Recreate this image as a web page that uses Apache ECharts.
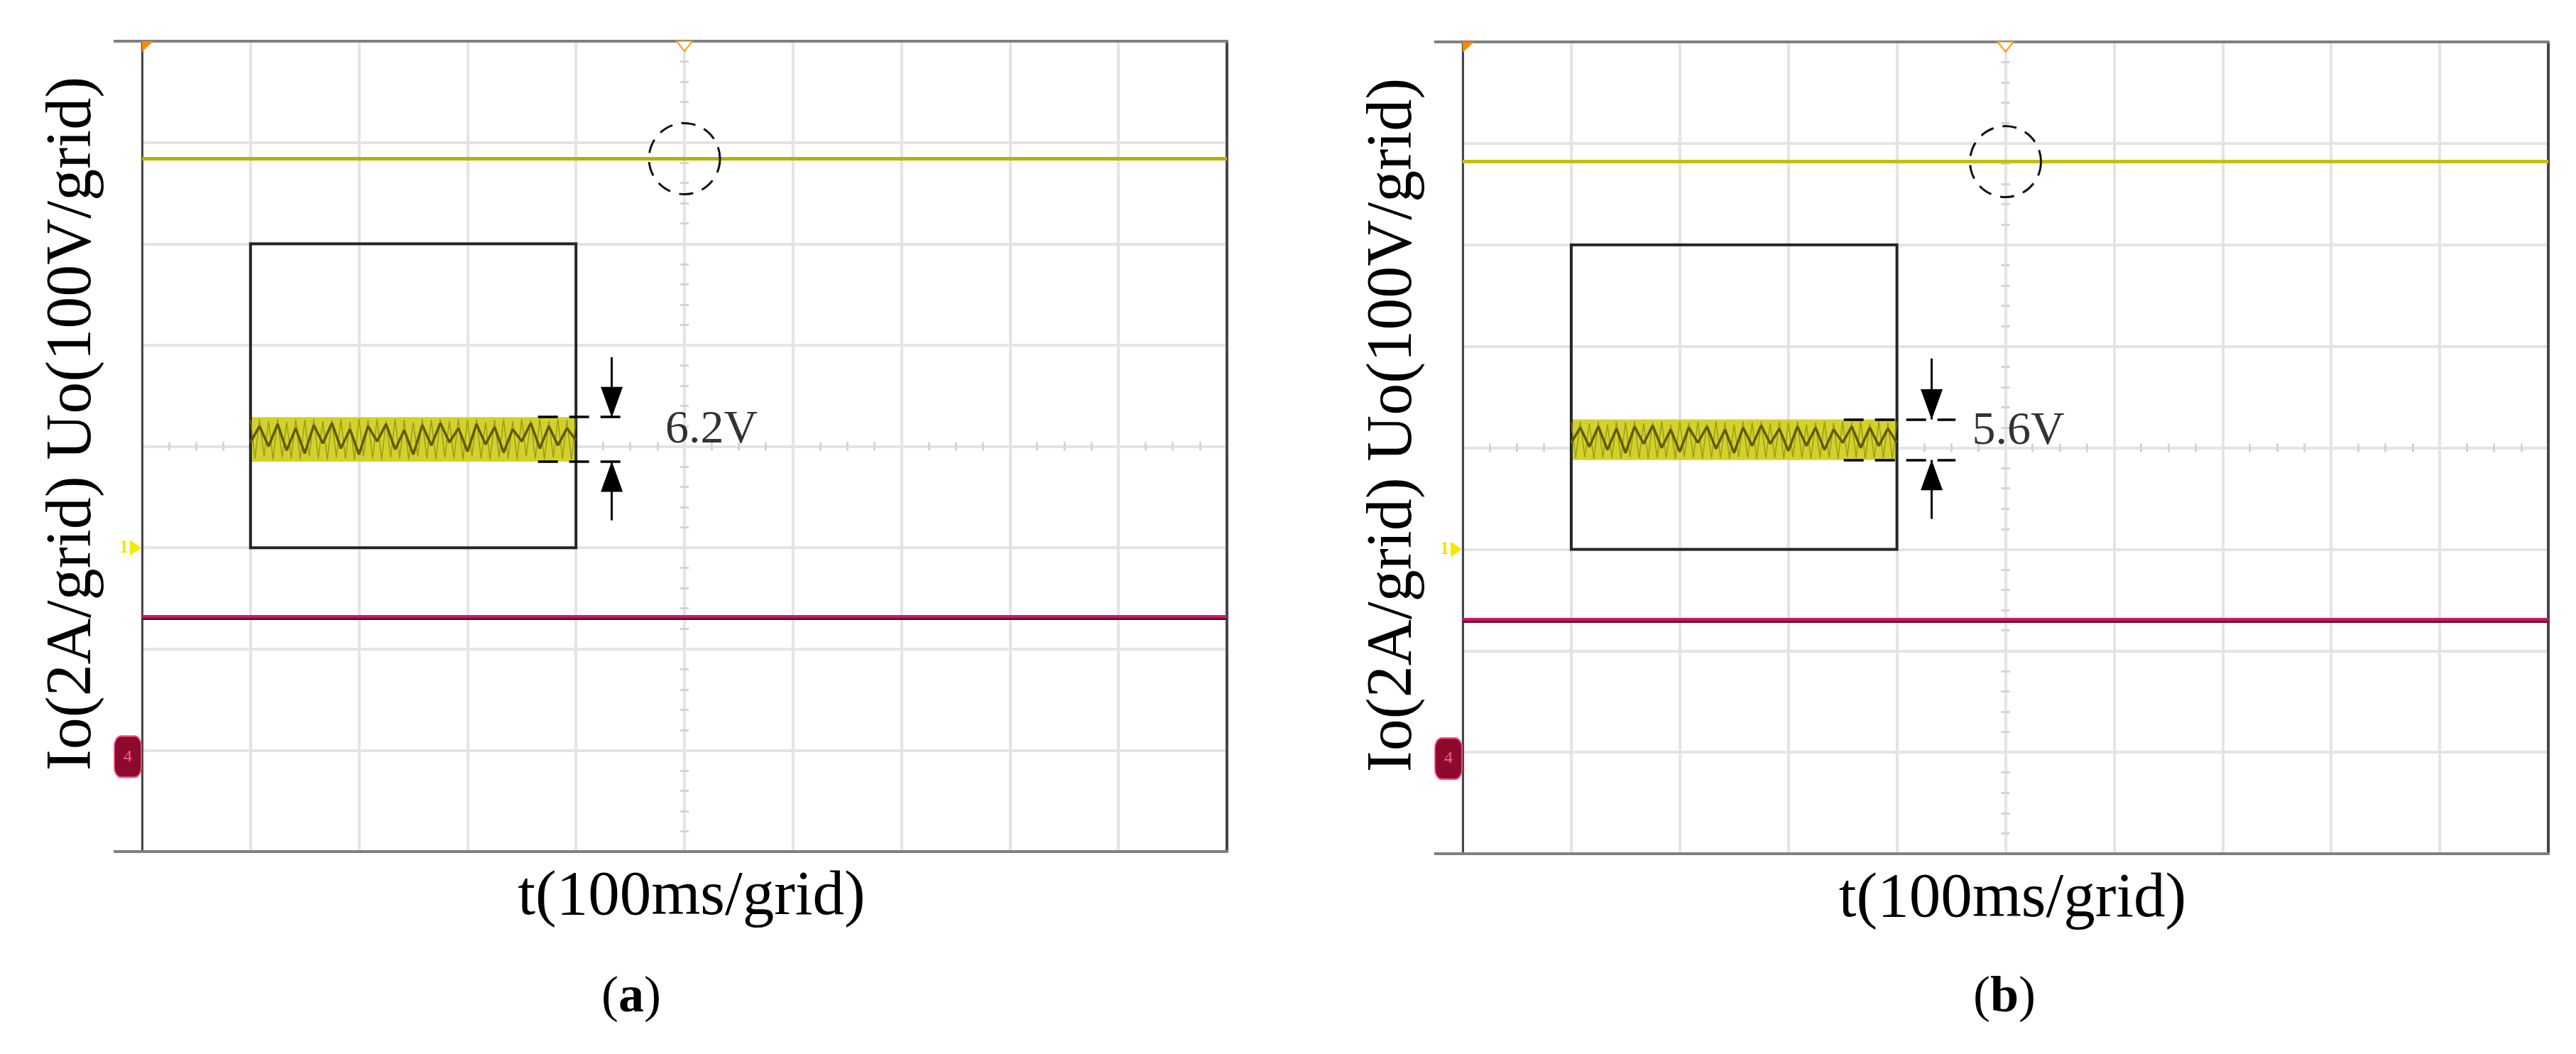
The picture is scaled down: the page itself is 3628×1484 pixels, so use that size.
<!DOCTYPE html>
<html>
<head>
<meta charset="utf-8">
<title>Output voltage and current</title>
<script src="https://cdn.jsdelivr.net/npm/echarts@6.0.0/dist/echarts.min.js"></script>
<style>
  html, body { margin: 0; padding: 0; background: #fff; }
  #chart { width: 3628px; height: 1484px; }
</style>
</head>
<body>
<div id="chart"></div>
<script>
// Scope screen: 10 x 8 divisions, the centre of the screen is (0, 0)
const timeRange = [-5, 5];
const levelRange = [-4, 4];
const sampleTimes = [-5, 5];

// Traces, in divisions from the screen centre
const uoTraceA = [2.84, 2.84];
const uoTraceB = [2.82, 2.82];
const ioTraceA = [-1.68, -1.68];
const ioTraceB = [-1.69, -1.69];

const ch1Ground = [-1, -1];
const ch4Ground = [-3, -3];

// Zoom window with the ripple of Uo
const zoomBoxX = [-4, -1];
const zoomBoxY = [-1, 2];
const rippleTop = [0.29, 0.28];
const rippleBottom = [-0.15, -0.12];
const rippleLabels = ['6.2V', '5.6V'];
// slow ripple (dark zig-zag)
const rippleTraceA = [0.04, 0.20, 0.00, 0.22, -0.04, 0.18, -0.07, 0.21, 0.03, 0.23, -0.02, 0.17, -0.08, 0.20,
    0.05, 0.22, -0.03, 0.16, -0.08, 0.21, 0.01, 0.23, 0.04, 0.18, -0.05, 0.22, 0.02, 0.19, -0.06, 0.17,
    0.05, 0.23, -0.02, 0.20, 0.01, 0.18, 0.06];
const rippleTraceB = [0.05, 0.20, 0.01, 0.21, -0.02, 0.19, -0.05, 0.21, 0.04, 0.22, 0.00, 0.18, -0.04, 0.20,
    0.05, 0.21, -0.01, 0.18, -0.05, 0.20, 0.02, 0.22, 0.04, 0.19, -0.03, 0.21, 0.02, 0.20, -0.02, 0.18,
    0.05, 0.21, 0.00, 0.20, 0.02, 0.19, 0.05];
// switching noise (fine streaks)
const rippleNoiseA = [0.26, -0.12, 0.27, -0.10, 0.25, -0.13, 0.27, -0.11, 0.24, -0.12, 0.27, -0.13, 0.26,
    -0.10, 0.27, -0.12, 0.25, -0.13, 0.26, -0.11, 0.27, -0.12, 0.24, -0.13, 0.27, -0.10, 0.26, -0.12,
    0.27, -0.13, 0.25, -0.11, 0.27, -0.12, 0.26, -0.13, 0.24, -0.10, 0.27, -0.12, 0.26, -0.13, 0.27,
    -0.11, 0.25, -0.12, 0.27, -0.13, 0.26, -0.10, 0.27, -0.12, 0.24, -0.13, 0.26, -0.11, 0.27, -0.12,
    0.25, -0.13, 0.27, -0.10, 0.26, -0.12, 0.27, -0.13, 0.25, -0.11, 0.27, -0.12, 0.26, -0.13, 0.27];
const rippleNoiseB = [0.25, -0.10, 0.26, -0.09, 0.24, -0.11, 0.26, -0.10, 0.23, -0.10, 0.26, -0.11, 0.25,
    -0.09, 0.26, -0.10, 0.24, -0.11, 0.25, -0.10, 0.26, -0.10, 0.23, -0.11, 0.26, -0.09, 0.25, -0.10,
    0.26, -0.11, 0.24, -0.10, 0.26, -0.10, 0.25, -0.11, 0.23, -0.09, 0.26, -0.10, 0.25, -0.11, 0.26,
    -0.10, 0.24, -0.10, 0.26, -0.11, 0.25, -0.09, 0.26, -0.10, 0.23, -0.11, 0.25, -0.10, 0.26, -0.10,
    0.24, -0.11, 0.26, -0.09, 0.25, -0.10, 0.26, -0.11, 0.24, -0.10, 0.26, -0.10, 0.25, -0.11, 0.26];

// Annotation anchors, in divisions
const dashFrom = [-1.35, -1.49];
const dashTo = [-0.58, -0.46];
const arrowX = [-0.67, -0.68];
const arrowTopFrom = [0.88, 0.88];
const arrowBottomFrom = [-0.73, -0.70];
const rippleLabelX = [-0.18, -0.31];
const rippleLabelY = [0.16, 0.16];

const panelLabels = ['a', 'b'];
const xAxisName = 't(100ms/grid)';
const yAxisName = 'Io(2A/grid) Uo(100V/grid)';

// Layout (pixels)
const panels = [
    { left: 200, top: 58, width: 1528, height: 1141, labelX: 889 },
    { left: 2060, top: 59, width: 1529, height: 1143, labelX: 2823 }
];
const serif = "'Liberation Serif', 'Times New Roman', serif";
const gridColor = '#e4e4e4';
const frameGray = '#808080';
const frameDark = '#474747';
const tickStyle = { color: '#d4d4d4', width: 3 };

document.addEventListener('DOMContentLoaded', function() {
    const chart = echarts.init(document.getElementById('chart'), null, { renderer: 'canvas' });
    const option = {
        backgroundColor: '#fff',
        animation: false,
        grid: [],
        xAxis: [],
        yAxis: [],
        series: [],
        graphic: []
    };

    const traces = [
        { uo: uoTraceA, io: ioTraceA, ripple: rippleTraceA, noise: rippleNoiseA },
        { uo: uoTraceB, io: ioTraceB, ripple: rippleTraceB, noise: rippleNoiseB }
    ];

    panels.forEach(function(box, p) {
        option.grid.push({
            left: box.left, top: box.top, width: box.width, height: box.height,
            containLabel: false, outerBoundsMode: 'none', show: false
        });
        addAxes(option, p);
        addSeries(option, p, traces[p]);
        addDecorations(option, p, box);
    });

    chart.setOption(option);
});

function hidden() {
    return { show: false };
}

function addAxes(option, p) {
    const base = p * 4;

    // frame bottom (main axis, carries the grid lines)
    option.xAxis.push({
        type: 'value', gridIndex: p, min: timeRange[0], max: timeRange[1], interval: 1,
        position: 'bottom',
        axisLine: { show: true, onZero: false, lineStyle: { color: frameGray, width: 4 } },
        axisTick: hidden(), axisLabel: hidden(),
        splitLine: { show: true, lineStyle: { color: gridColor, width: 4 } },
        name: xAxisName, nameLocation: 'middle', nameGap: 20,
        nameTextStyle: { fontFamily: serif, fontSize: 89, color: '#000', padding: [0, 0, 0, 20] }
    });
    // frame top
    option.xAxis.push({
        type: 'value', gridIndex: p, min: timeRange[0], max: timeRange[1], interval: 1,
        position: 'top',
        axisLine: { show: true, onZero: false, lineStyle: { color: frameGray, width: 4 } },
        axisTick: hidden(), axisLabel: hidden(), splitLine: hidden()
    });
    // centre line ticks, both sides
    [false, true].forEach(function(inside) {
        option.xAxis.push({
            type: 'value', gridIndex: p, min: timeRange[0], max: timeRange[1], interval: 1,
            position: 'bottom',
            axisLine: { show: true, onZero: true, onZeroAxisIndex: base, lineStyle: { opacity: 0 } },
            axisTick: { show: false, inside: inside },
            minorTick: { show: true, splitNumber: 4, length: 6, lineStyle: tickStyle },
            axisLabel: hidden(), splitLine: hidden()
        });
    });

    // frame left (main axis)
    option.yAxis.push({
        type: 'value', gridIndex: p, min: levelRange[0], max: levelRange[1], interval: 1,
        position: 'left',
        axisLine: { show: true, onZero: false, lineStyle: { color: frameDark, width: 3 } },
        axisTick: hidden(), axisLabel: hidden(),
        splitLine: { show: true, lineStyle: { color: gridColor, width: 4 } },
        name: yAxisName, nameLocation: 'middle', nameRotate: 90, nameGap: 52,
        nameTextStyle: { fontFamily: serif, fontSize: 90, color: '#000', padding: [0, 0, 0, 64] }
    });
    // frame right
    option.yAxis.push({
        type: 'value', gridIndex: p, min: levelRange[0], max: levelRange[1], interval: 1,
        position: 'right',
        axisLine: { show: true, onZero: false, lineStyle: { color: frameDark, width: 4 } },
        axisTick: hidden(), axisLabel: hidden(), splitLine: hidden()
    });
    [false, true].forEach(function(inside) {
        option.yAxis.push({
            type: 'value', gridIndex: p, min: levelRange[0], max: levelRange[1], interval: 1,
            position: 'left',
            axisLine: { show: true, onZero: true, onZeroAxisIndex: base, lineStyle: { opacity: 0 } },
            axisTick: { show: false, inside: inside },
            minorTick: { show: true, splitNumber: 5, length: 6, lineStyle: tickStyle },
            axisLabel: hidden(), splitLine: hidden()
        });
    });
}

// spread values evenly across the zoom window
function acrossZoomBox(values) {
    const step = (zoomBoxX[1] - zoomBoxX[0]) / (values.length - 1);
    return values.map(function(v, i) { return [zoomBoxX[0] + i * step, v]; });
}

function addSeries(option, p, tr) {
    const axes = { xAxisIndex: p * 4, yAxisIndex: p * 4 };

    // Uo
    option.series.push(Object.assign({
        name: 'Uo', type: 'line', symbol: 'none', z: 4,
        data: sampleTimes.map(function(t, i) { return [t, tr.uo[i]]; }),
        lineStyle: { color: p === 0 ? '#b4b200' : '#c4c200', width: 5 }
    }, axes));

    // Io
    option.series.push(Object.assign({
        name: 'Io', type: 'line', symbol: 'none', z: 4,
        data: sampleTimes.map(function(t, i) { return [t, tr.io[i]]; }),
        lineStyle: { color: '#d0146a', width: 4, shadowColor: '#700a30', shadowOffsetY: 3, shadowBlur: 0 }
    }, axes));

    // zoomed ripple: fine switching noise
    option.series.push(Object.assign({
        name: 'ripple noise', type: 'line', symbol: 'none', z: 5,
        data: acrossZoomBox(tr.noise),
        lineStyle: { color: '#8c8a12', width: 1.5, opacity: 0.75 }
    }, axes));

    // zoomed ripple: slow component, with the zoom box and the measuring marks
    option.series.push(Object.assign({
        name: 'ripple', type: 'line', symbol: 'none', z: 5,
        data: acrossZoomBox(tr.ripple),
        lineStyle: { color: '#5e5c00', width: 3.5 },
        markArea: {
            silent: true,
            label: { show: false },
            data: [
                [{ coord: [zoomBoxX[0], rippleBottom[p]], itemStyle: { color: '#d3d12c', opacity: 1 } },
                 { coord: [zoomBoxX[1], rippleTop[p]] }],
                [{ coord: [zoomBoxX[0], zoomBoxY[0]],
                   itemStyle: { color: 'rgba(0,0,0,0)', borderColor: '#262626', borderWidth: 4, opacity: 1 } },
                 { coord: [zoomBoxX[1], zoomBoxY[1]] }]
            ]
        },
        markLine: {
            silent: true,
            symbol: ['none', 'none'],
            label: { show: false },
            lineStyle: { color: '#000', width: 3.5, type: [28, 16] },
            data: [
                [{ coord: [dashFrom[p], rippleTop[p]] }, { coord: [dashTo[p], rippleTop[p]] }],
                [{ coord: [dashFrom[p], rippleBottom[p]] }, { coord: [dashTo[p], rippleBottom[p]] }],
                [{ coord: [arrowX[p], arrowTopFrom[p]], lineStyle: { type: 'solid', width: 3 } },
                 { coord: [arrowX[p], rippleTop[p]] }],
                [{ coord: [arrowX[p], arrowBottomFrom[p]], lineStyle: { type: 'solid', width: 3 } },
                 { coord: [arrowX[p], rippleBottom[p]] }]
            ]
        }
    }, axes));

    // arrow heads
    option.series.push(Object.assign({
        name: 'arrows', type: 'scatter', symbol: 'triangle', symbolSize: [31, 43], z: 6,
        itemStyle: { color: '#000', opacity: 1 },
        data: [
            { value: [arrowX[p], rippleTop[p]], symbolRotate: 180, symbolOffset: [0, -21] },
            { value: [arrowX[p], rippleBottom[p]], symbolOffset: [0, 21] }
        ]
    }, axes));

    // ripple value text
    option.series.push(Object.assign({
        name: 'ripple label', type: 'scatter', symbolSize: 1, z: 6,
        itemStyle: { color: 'rgba(0,0,0,0)' },
        label: {
            show: true, position: 'right', distance: 0, formatter: rippleLabels[p],
            fontFamily: serif, fontSize: 66, color: '#000'
        },
        data: [[rippleLabelX[p], rippleLabelY[p]]]
    }, axes));

    // dashed circle around the Uo trace at the trigger point
    option.series.push(Object.assign({
        name: 'circle', type: 'scatter', symbol: 'circle', symbolSize: 100, z: 6,
        itemStyle: { color: 'rgba(0,0,0,0)', borderColor: '#111', borderWidth: 3, borderType: [20, 13], opacity: 1 },
        data: [[0, tr.uo[0]]]
    }, axes));

    // trigger markers at the top edge
    option.series.push(Object.assign({
        name: 'trigger', type: 'scatter', clip: false, z: 7,
        itemStyle: { color: '#ff8a00', opacity: 1 },
        data: [
            { value: [timeRange[0], levelRange[1]], symbol: 'path://M0,0 L16,0 L0,15 Z',
              symbolSize: [16, 15], symbolOffset: [8, 7.5] },
            { value: [0, levelRange[1]], symbol: 'triangle', symbolRotate: 180,
              symbolSize: [22, 14], symbolOffset: [0, 7],
              itemStyle: { color: '#fff', borderColor: '#ff9a1a', borderWidth: 2 } }
        ]
    }, axes));

    // channel ground markers on the left edge
    option.series.push(Object.assign({
        name: 'ground', type: 'scatter', clip: false, z: 7,
        data: [
            { value: [timeRange[0], ch1Ground[p]], symbol: 'path://M0,0 L10,6 L0,12 Z',
              symbolSize: [16, 22], symbolOffset: [-9, 0],
              itemStyle: { color: '#f6e800', opacity: 1 },
              label: { show: true, formatter: '1', position: 'left', distance: 2,
                       color: '#f2e400', fontSize: 26, fontFamily: serif, fontWeight: 'bold' } },
            { value: [timeRange[0], ch4Ground[p]], symbol: 'roundRect',
              symbolSize: [38, 58], symbolOffset: [-20, 9],
              itemStyle: { color: '#8c0b2c', borderColor: '#ff4f8f', borderWidth: 2, opacity: 1 },
              label: { show: true, formatter: '4', position: 'inside',
                       color: '#ff5a9a', fontSize: 24, fontFamily: serif } }
        ]
    }, axes));
}

function addDecorations(option, p, box) {
    // top and bottom frame lines run a little past the left edge
    [box.top, box.top + box.height].forEach(function(y) {
        option.graphic.push({
            type: 'line', silent: true, z: 10,
            shape: { x1: box.left - 40, y1: y, x2: box.left, y2: y },
            style: { stroke: frameGray, lineWidth: 4 }
        });
    });

    // sub-figure label with a bold letter
    option.graphic.push({
        type: 'text', x: box.labelX, y: 1405, silent: true,
        style: {
            text: '({b|' + panelLabels[p] + '})',
            fontFamily: serif, fontSize: 72, fill: '#000',
            align: 'center', verticalAlign: 'middle',
            rich: { b: { fontFamily: serif, fontSize: 72, fontWeight: 'bold', fill: '#000' } }
        }
    });
}
</script>
</body>
</html>
